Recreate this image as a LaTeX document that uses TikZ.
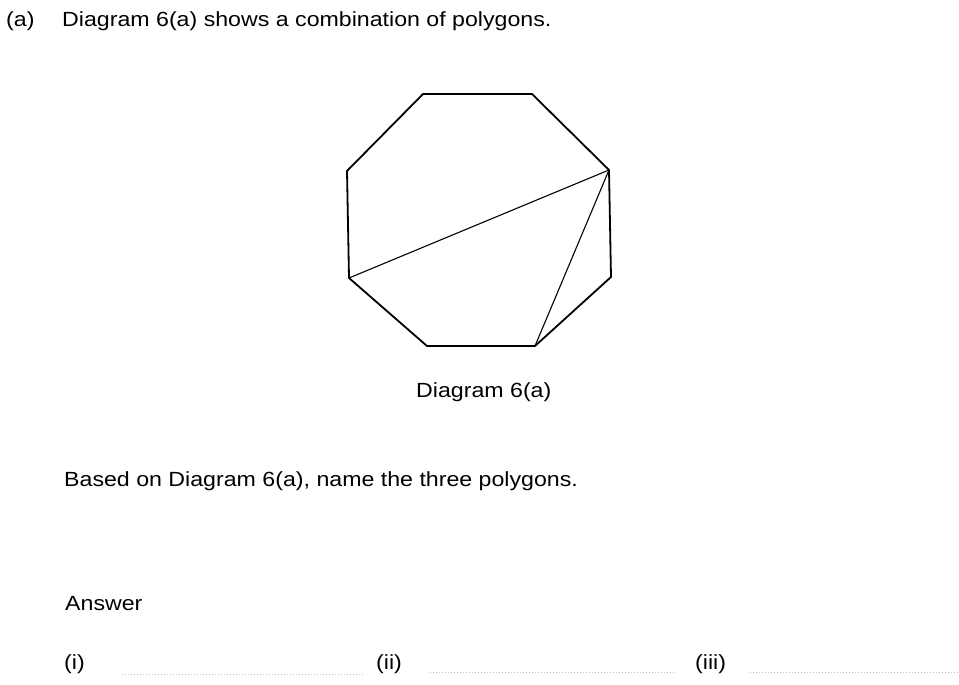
\documentclass[tikz,border=0pt]{standalone}
\usepackage{fontspec}
\setmainfont[FakeStretch=1.13]{Liberation Sans}
\usepackage{tikz}
\usetikzlibrary{positioning}
\tikzstyle{txt} = [inner sep = 0pt, anchor = base west, font = \fontsize{20.5}{24}\selectfont]
\tikzstyle{edge} = [draw, line width = 1.8pt, line join = round]
\tikzstyle{diag} = [draw, line width = 1.1pt]
\tikzstyle{ansline} = [draw, black!25, line width = 1pt, dotted]

\begin{document}
\begin{tikzpicture}[x=1pt, y=1pt]
				\useasboundingbox (0,0) rectangle (959,685);

				\node [txt] (part) at (6, 658) {(a)};
				\node [txt] (intro) at (62, 658) {Diagram 6(a) shows a combination of polygons.};

				\coordinate (p1) at (423, 591);
				\coordinate (p2) at (532, 591);
				\coordinate (p3) at (609, 515);
				\coordinate (p4) at (611, 408);
				\coordinate (p5) at (535, 339);
				\coordinate (p6) at (427, 339);
				\coordinate (p7) at (349, 407);
				\coordinate (p8) at (347, 514);

				\path [edge] (p1) -- (p2) -- (p3) -- (p4) -- (p5) -- (p6) -- (p7) -- (p8) -- cycle;
				\path [diag] (p3) -- (p7);
				\path [diag] (p3) -- (p5);

				\node [txt] (caption) at (416, 287) {Diagram 6(a)};
				\node [txt] (question) at (64, 198) {Based on Diagram 6(a), name the three polygons.};
				\node [txt] (answer) at (65, 74) {Answer};

				\node [txt] (i) at (64, 15) {(i)};
				\node [txt] (ii) at (376, 15) {(ii)};
				\node [txt] (iii) at (695, 15) {(iii)};

				\coordinate (l1a) at (122, 10);
				\coordinate (l1b) at (365, 10);
				\coordinate (l2a) at (430, 12);
				\coordinate (l2b) at (675, 12);
				\coordinate (l3a) at (750, 12);
				\coordinate (l3b) at (959, 12);

				\path [ansline] (l1a) -- (l1b);
				\path [ansline] (l2a) -- (l2b);
				\path [ansline] (l3a) -- (l3b);
			\end{tikzpicture}
\end{document}
